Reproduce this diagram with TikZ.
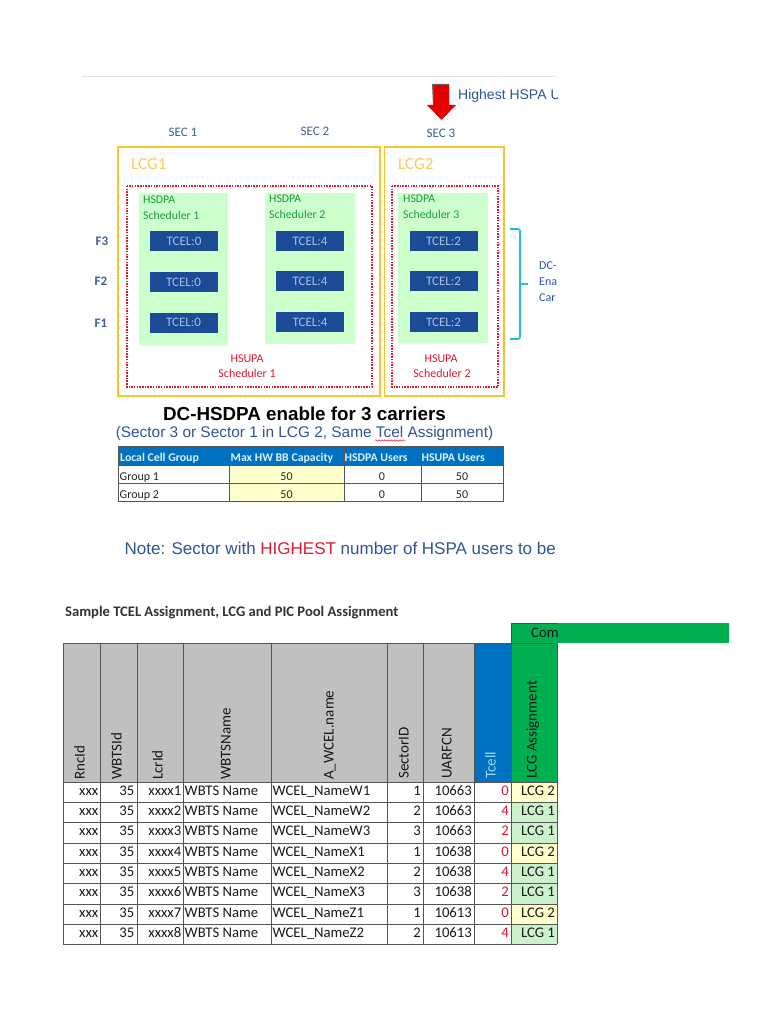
\documentclass[tikz,border=0pt]{standalone}
\usepackage{fontspec}
\setmainfont{Liberation Sans}
\newfontfamily\carl{Carlito}
\usetikzlibrary{decorations.pathmorphing}
\definecolor{secblue}{HTML}{3F5E9E}
\definecolor{lcgyellow}{HTML}{F9C32C}
\definecolor{lcgtext}{HTML}{FBCB5A}
\definecolor{redline}{HTML}{E01830}
\definecolor{schedgreen}{HTML}{CCFFCC}
\definecolor{schedtext}{HTML}{1F9A3C}
\definecolor{tcelblue}{HTML}{1B4A96}
\definecolor{tceltext}{HTML}{A9C0DE}
\definecolor{headblue}{HTML}{0070C0}
\definecolor{paleyellow}{HTML}{FFFFCC}
\definecolor{headgray}{HTML}{C0C0C0}
\definecolor{excelgreen}{HTML}{00B050}
\definecolor{gridgray}{HTML}{555555}
\definecolor{lcggreen}{HTML}{CCF2CC}
\definecolor{textblue}{HTML}{2F5597}
\definecolor{cyanb}{HTML}{22BBEA}
\tikzset{
  x=1pt,y=-1pt,
  lcgbox/.style={draw=lcgyellow,line width=1.6pt,fill=none},
  hsupabox/.style={draw=redline,line width=1.5pt,dash pattern=on 1.5pt off 1.2pt},
  schedbox/.style={fill=schedgreen,draw=none},
  tcelbox/.style={fill=tcelblue,draw=none,text=tceltext,font=\carl\fontsize{13}{14}\selectfont,inner sep=0pt,minimum width=68pt,minimum height=20pt},
  sectxt/.style={text=secblue,font=\carl\fontsize{13}{14}\selectfont,inner sep=0pt},
  lcgtxt/.style={text=lcgtext,font=\carl\fontsize{17}{18}\selectfont,inner sep=0pt,anchor=west},
  schedtxt/.style={text=schedtext,font=\carl\fontsize{11.8}{13}\selectfont,inner sep=0pt,anchor=west,text height=8pt,text depth=2.5pt},
  hsupatxt/.style={text=redline,font=\carl\fontsize{12}{13}\selectfont,inner sep=0pt,text height=8pt,text depth=2.5pt},
  ttxt/.style={font=\carl\fontsize{12}{13}\selectfont,inner sep=0pt,text=black!85,text height=8pt,text depth=2.5pt},
  thtxt/.style={font=\carl\bfseries\fontsize{11.8}{13}\selectfont,inner sep=0pt,anchor=west,text=white!85!cyan,text height=8pt,text depth=2.5pt},
  cellt/.style={font=\carl\fontsize{14.7}{15}\selectfont,inner sep=0pt,text=black!90,text height=9.5pt,text depth=3pt},
  headt/.style={font=\carl\fontsize{15}{16}\selectfont,inner sep=0pt,rotate=90,anchor=west,text=black!90,text height=10pt,text depth=3pt},
  gridl/.style={draw=gridgray,line width=0.9pt},
  dctxt/.style={text=textblue,font=\carl\fontsize{12}{13}\selectfont,inner sep=0pt,anchor=west},
}
\begin{document}
\begin{tikzpicture}
\useasboundingbox (0,0) rectangle (768,1024);
\fill[white] (0,0) rectangle (768,1024);
% top rule
\coordinate (ruleL) at (82,77); \coordinate (ruleR) at (557,77);
\draw[black!10,line width=1pt] (ruleL) -- (ruleR);
% arrow
\fill[black!60] (432,84) -- (449,84) -- (449,105) -- (433,105) -- cycle;
\fill[red!90!black] (433.5,85) -- (449,85) -- (449,105) -- (456,105) -- (441.5,120) -- (427,105) -- (433.5,105) -- cycle;
\begin{scope}
\clip (450,80) rectangle (557,345);
\node[inner sep=0pt,anchor=west,text=textblue,font=\fontsize{14}{15}\selectfont] (high) at (458,95.5) {Highest HSPA U};
\node[dctxt] (dc1) at (539,266) {DC-};
\node[dctxt] (dc2) at (539,282) {Ena};
\node[dctxt] (dc3) at (539,298) {Car};
\end{scope}
% section labels
\node[sectxt] (sec1) at (183,132) {SEC 1};
\node[sectxt] (sec2) at (315,131) {SEC 2};
\node[sectxt] (sec3) at (441,133) {SEC 3};
\node[sectxt,font=\carl\bfseries\fontsize{13}{14}\selectfont] (f3) at (102,241) {F3};
\node[sectxt,font=\carl\bfseries\fontsize{13}{14}\selectfont] (f2) at (101,281) {F2};
\node[sectxt,font=\carl\bfseries\fontsize{13}{14}\selectfont] (f1) at (101,323) {F1};
% LCG boxes
\draw[lcgbox] (118,147) rectangle (380,396);
\draw[lcgbox] (384.5,147) rectangle (504,396);
\node[lcgtxt] (lcg1) at (131,164) {LCG1};
\node[lcgtxt] (lcg2) at (398,164) {LCG2};
\draw[hsupabox] (127,186) rectangle (372,387);
\draw[hsupabox] (392,186) rectangle (498,387);
% schedulers
\fill[schedbox] (139,193) rectangle (228,345);
\fill[schedbox] (265,193) rectangle (355,344);
\fill[schedbox] (398,193) rectangle (488,343);
\node[schedtxt] (s1a) at (143,201) {HSDPA};
\node[schedtxt] (s1b) at (143,217) {Scheduler 1};
\node[schedtxt] (s2a) at (269,200) {HSDPA};
\node[schedtxt] (s2b) at (269,216) {Scheduler 2};
\node[schedtxt] (s3a) at (403,200) {HSDPA};
\node[schedtxt] (s3b) at (403,216) {Scheduler 3};
% tcel
\node[tcelbox] (t01) at (184,241) {TCEL:0};
\node[tcelbox] (t02) at (183.5,282) {TCEL:0};
\node[tcelbox] (t03) at (183.5,322.5) {TCEL:0};
\node[tcelbox] (t41) at (310,241) {TCEL:4};
\node[tcelbox] (t42) at (310,281) {TCEL:4};
\node[tcelbox] (t43) at (310,322) {TCEL:4};
\node[tcelbox] (t21) at (443.5,241) {TCEL:2};
\node[tcelbox] (t22) at (443.5,281) {TCEL:2};
\node[tcelbox] (t23) at (443.5,322) {TCEL:2};
% hsupa
\node[hsupatxt] (h1a) at (247,360) {HSUPA};
\node[hsupatxt] (h1b) at (247,375) {Scheduler 1};
\node[hsupatxt] (h2a) at (441,360) {HSUPA};
\node[hsupatxt] (h2b) at (442,375) {Scheduler 2};
% bracket
\coordinate (brT) at (510,229); \coordinate (brB) at (510,339);
\coordinate (brM) at (528,284);
\draw[cyanb,line width=1.6pt,rounded corners=1.5pt] (brT) -- (520,229) -- (520,339) -- (brB);
\draw[cyanb,line width=1.6pt] (520,284) -- (brM);
% headings
\node[inner sep=0pt,font=\bfseries\fontsize{18.8}{20}\selectfont,text=black] (title) at (304.5,413.5) {DC-HSDPA enable for 3 carriers};
\node[inner sep=0pt,font=\fontsize{15.4}{17}\selectfont,text=textblue] (sub) at (304.5,433.5) {(Sector 3 or Sector 1 in LCG 2, Same Tcel Assignment)};
\coordinate (sqL) at (375,440.5); \coordinate (sqR) at (405,440.5);
\draw[redline,line width=0.5pt,decorate,decoration={snake,amplitude=0.8pt,segment length=3pt}] (sqL) -- (sqR);
% small table
\fill[headblue] (118,446) rectangle (503,465);
\fill[paleyellow] (229,465) rectangle (344,501);
\draw[gridl] (118,446) rectangle (503,501);
\draw[gridl] (118,465) -- (503,465) (118,483) -- (503,483);
\draw[gridl] (229,446) -- (229,501) (344,446) -- (344,501) (421,446) -- (421,501);
\node[thtxt] (c1) at (120,458.5) {Local Cell Group};
\node[thtxt] (c2) at (230.5,458.5) {Max HW BB Capacity};
\node[thtxt] (c3) at (344.5,458.5) {HSDPA Users};
\node[thtxt] (c4) at (421.5,458.5) {HSUPA Users};
\node[ttxt,anchor=west] (g1) at (119.5,477.5) {Group 1};
\node[ttxt,anchor=west] (g2) at (119.5,495.5) {Group 2};
\node[ttxt] (a1) at (286.5,477.5) {50};
\node[ttxt] (a2) at (286.5,495.5) {50};
\node[ttxt] (b1) at (382,477.5) {0};
\node[ttxt] (b2) at (382,495.5) {0};
\node[ttxt] (d1) at (462,477.5) {50};
\node[ttxt] (d2) at (462,495.5) {50};
% note
\node[inner sep=0pt,anchor=west,font=\fontsize{17}{19}\selectfont,text=textblue] (note) at (124.5,548.5) {Note: Sector with \textcolor{redline}{HIGHEST} number of HSPA users to be};
% sample heading
\node[inner sep=0pt,anchor=west,font=\carl\bfseries\fontsize{14.6}{16}\selectfont,text=black!80] (sample) at (65,613) {Sample TCEL Assignment, LCG and PIC Pool Assignment};
% big table header
\fill[excelgreen] (511,623) rectangle (729,643);
\fill[headgray] (63,643) rectangle (474,782);
\fill[headblue] (474,643) rectangle (511,782);
\fill[excelgreen] (511,643) rectangle (557,782);
\begin{scope}
\clip (511,623) rectangle (557,643);
\node[inner sep=0pt,anchor=west,font=\carl\fontsize{14.7}{15}\selectfont,text=black!90] (com) at (531,633) {Com};
\end{scope}
\draw[black!70,line width=0.9pt] (511,643) -- (511,623) -- (557,623);
% LCG cells
\foreach \rr/\ta/\tb/\cc in {1/782/802/paleyellow,2/802/822/lcggreen,3/822/843/lcggreen,4/843/863/paleyellow,5/863/883/lcggreen,6/883/904/lcggreen,7/904/924/paleyellow,8/924/944/lcggreen}
  \fill[\cc] (511,\ta) rectangle (557,\tb);
% grid
\foreach \yy in {643,782,802,822,843,863,883,904,924,944}
  \draw[gridl] (63,\yy) -- (557,\yy);
\foreach \xx in {63,100,137,183,271,387,423,474,511,557}
  \draw[gridl] (\xx,643) -- (\xx,944);
% rotated headers
\node[headt] (hr) at (81,780) {RncId};
\node[headt] (hw) at (118,780) {WBTSId};
\node[headt] (hl) at (159,780) {LcrId};
\node[headt] (hn) at (227,780) {WBTSName};
\node[headt] (ha) at (330,780) {A\_WCEL.name};
\node[headt] (hs) at (405,779) {SectorID};
\node[headt] (hu) at (448,779) {UARFCN};
\node[headt,text=cyan!40!white] (ht) at (492,779) {Tcell};
\node[headt] (hg) at (533,779) {LCG Assignment};
% rows
\foreach \rr/\yy/\wc/\sid/\ff/\tc/\lgn in {
 1/792/W1/1/10663/0/2,
 2/812/W2/2/10663/4/1,
 3/832.5/W3/3/10663/2/1,
 4/853/X1/1/10638/0/2,
 5/873/X2/2/10638/4/1,
 6/893.5/X3/3/10638/2/1,
 7/914/Z1/1/10613/0/2,
 8/934/Z2/2/10613/4/1}{
  \node[cellt,anchor=east] (rn\rr) at (98.5,\yy) {xxx};
  \node[cellt,anchor=east] (wb\rr) at (134.5,\yy) {35};
  \node[cellt,anchor=east] (lc\rr) at (181.5,\yy) {xxxx\rr};
  \node[cellt,anchor=west] (na\rr) at (184.5,\yy) {WBTS Name};
  \node[cellt,anchor=west] (we\rr) at (272.5,\yy) {WCEL\_Name\wc};
  \node[cellt,anchor=east] (se\rr) at (421,\yy) {\sid};
  \node[cellt,anchor=east] (ua\rr) at (472,\yy) {\ff};
  \node[cellt,anchor=east,text=redline] (tc\rr) at (509,\yy) {\tc};
  \node[cellt,anchor=east] (lg\rr) at (555,\yy) {LCG \lgn};
}
\end{tikzpicture}
\end{document}
